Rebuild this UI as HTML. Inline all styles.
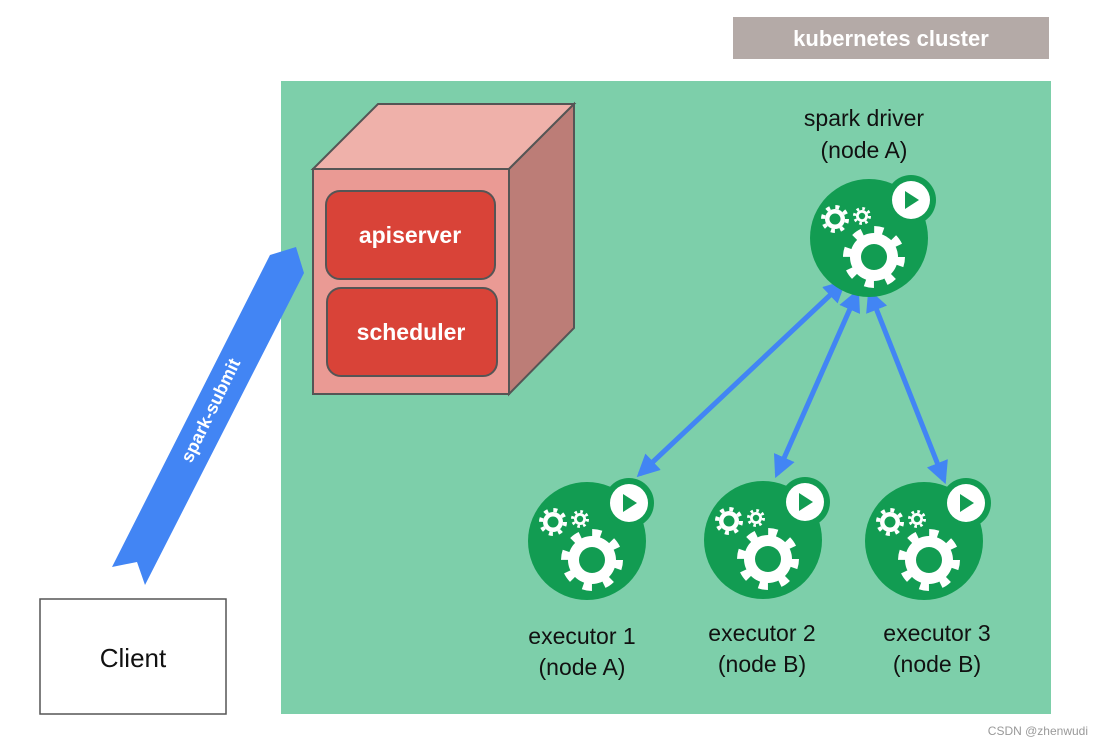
<!DOCTYPE html>
<html><head><meta charset="utf-8"><style>
body{margin:0;background:#fff}
svg{display:block}
text{font-family:"Liberation Sans",sans-serif}
</style></head><body>
<svg width="1098" height="744" viewBox="0 0 1098 744" xmlns="http://www.w3.org/2000/svg">
<defs>
<g id="gear">
  <circle r="24" fill="#fff"/>
  <circle r="27" fill="none" stroke="#fff" stroke-width="8" stroke-dasharray="9 12.2"/>
  <circle r="13" fill="#129c52"/>
</g>
<g id="gs">
  <circle r="10" fill="#fff"/>
  <circle r="12" fill="none" stroke="#fff" stroke-width="4" stroke-dasharray="4 5.42"/>
  <circle r="5.5" fill="#129c52"/>
</g>
<g id="gt">
  <circle r="6" fill="#fff"/>
  <circle r="7.5" fill="none" stroke="#fff" stroke-width="3" stroke-dasharray="2.6 3.3"/>
  <circle r="3.2" fill="#129c52"/>
</g>
<g id="pod">
  <circle r="59" fill="#129c52"/>
  <circle cx="42" cy="-38" r="25" fill="#129c52"/>
  <circle cx="42" cy="-38" r="19" fill="#fff"/>
  <polygon points="36,-47 36,-29 50,-38" fill="#129c52"/>
  <use href="#gear" x="5" y="19"/>
  <use href="#gs" x="-34" y="-19"/>
  <use href="#gt" x="-7" y="-22"/>
</g>
<marker id="ah" viewBox="0 0 10 10" refX="8" refY="5" markerWidth="4.5" markerHeight="4.5" orient="auto-start-reverse">
  <path d="M0,0 L10,5 L0,10 z" fill="#4285f4"/>
</marker>
</defs>
<rect x="733" y="17" width="316" height="42" fill="#b4aaa7"/>
<text x="891" y="46" text-anchor="middle" font-size="22" font-weight="bold" fill="#fff" font-family="Liberation Sans">kubernetes cluster</text>
<rect x="281" y="81" width="770" height="633" fill="#7dcfaa"/>
<!-- cube -->
<polygon points="313,169 378,104 574,104 509,169" fill="#efb1aa" stroke="#555" stroke-width="2"/>
<polygon points="509,169 574,104 574,328 509,394" fill="#bc7d77" stroke="#555" stroke-width="2"/>
<rect x="313" y="169" width="196" height="225" fill="#ea9a94" stroke="#555" stroke-width="2"/>
<rect x="326" y="191" width="169" height="88" rx="14" fill="#d94338" stroke="#555" stroke-width="2"/>
<rect x="327" y="288" width="170" height="88" rx="14" fill="#d94338" stroke="#555" stroke-width="2"/>
<text x="410" y="243" text-anchor="middle" font-size="23" font-weight="bold" fill="#fff">apiserver</text>
<text x="411" y="340" text-anchor="middle" font-size="23" font-weight="bold" fill="#fff">scheduler</text>
<!-- spark-submit -->
<polygon points="270,255 296,247 304,273 145,585 137,562 112,567" fill="#4285f4"/>
<text transform="translate(216,413) rotate(-64)" text-anchor="middle" font-size="18" font-weight="bold" fill="#fff">spark-submit</text>
<!-- client -->
<rect x="40" y="599" width="186" height="115" fill="#fff" stroke="#555" stroke-width="1.5"/>
<text x="133" y="667" text-anchor="middle" font-size="26" fill="#111">Client</text>
<!-- arrows -->
<line x1="843" y1="283" x2="640" y2="474" stroke="#4285f4" stroke-width="5" marker-start="url(#ah)" marker-end="url(#ah)"/>
<line x1="857" y1="293" x2="777" y2="474" stroke="#4285f4" stroke-width="5" marker-start="url(#ah)" marker-end="url(#ah)"/>
<line x1="870" y1="293" x2="944" y2="480" stroke="#4285f4" stroke-width="5" marker-start="url(#ah)" marker-end="url(#ah)"/>
<!-- pods -->
<use href="#pod" x="869" y="238"/>
<use href="#pod" x="587" y="541"/>
<use href="#pod" x="763" y="540"/>
<use href="#pod" x="924" y="541"/>
<g font-size="23" fill="#111" text-anchor="middle">
<text x="864" y="126">spark driver</text>
<text x="864" y="158">(node A)</text>
<text x="582" y="644">executor 1</text>
<text x="582" y="675">(node A)</text>
<text x="762" y="641">executor 2</text>
<text x="762" y="672">(node B)</text>
<text x="937" y="641">executor 3</text>
<text x="937" y="672">(node B)</text>
</g>
<text x="1088" y="735" text-anchor="end" font-size="12" fill="#999">CSDN @zhenwudi</text>
</svg>
</body></html>
